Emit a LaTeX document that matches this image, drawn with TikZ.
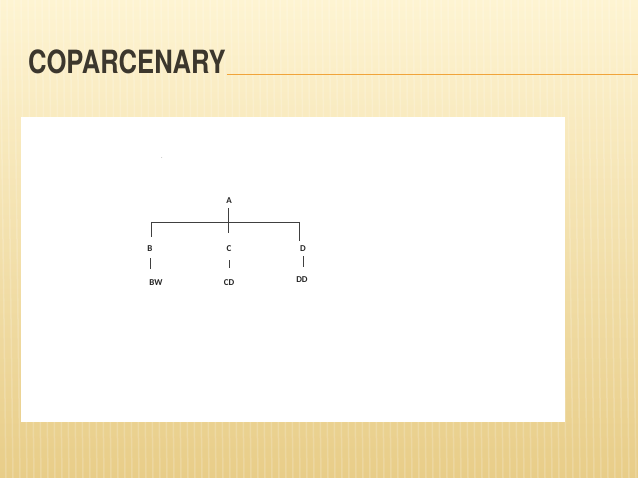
\documentclass[tikz,border=0pt]{standalone}
\usepackage{fontspec}
\setmainfont{Carlito}
\newfontfamily\titlefont{TeX Gyre Heros}
\usepackage{xcolor}
\usetikzlibrary{calc}
\definecolor{bgtop}{HTML}{FEF4D2}
\definecolor{bgmid}{HTML}{F7E4AA}
\definecolor{bgbot}{HTML}{E8CD88}
\definecolor{titlecol}{HTML}{3C372D}
\definecolor{rulecol}{HTML}{F0A43A}
\definecolor{linecol}{HTML}{404040}
\tikzset{
  member/.style={font=\bfseries\fontsize{9}{10}\selectfont, inner sep=0pt, text=black!85},
  kin/.style={draw=linecol, line width=0.8pt}
}

\begin{document}
\begin{tikzpicture}[x=1pt,y=-1pt]
        \useasboundingbox (0,0) rectangle (638,478);
        %BACKGROUND
        \shade[top color=bgtop, middle color=bgmid, bottom color=bgbot] (0,0) rectangle (638,478);
        \foreach \x in {0,7,...,630} \draw[white, opacity=0.18, line width=1.5pt] (\x,0) -- (\x+6,478);
        %TITLE
        \node[anchor=base west, inner sep=0pt, text=titlecol, font=\titlefont\bfseries\fontsize{32}{34}\selectfont] (title) at (28,73.5) {\scalebox{0.8}[1]{COPARCENARY}};
        \draw[rulecol, line width=1pt] (title.base east) ++(1,1.5) coordinate (ruleL) -- (638,75) coordinate (ruleR);
        %WHITE BOX
        \fill[white] (21,117) rectangle (565,422);
        \node[font=\fontsize{6}{7}\selectfont, text=gray] (dot) at (162,158) {.};
        %NAMES
        \node[member] (A) at (229,201) {A};
        \node[member] (B) at (150,249) {B};
        \node[member] (C) at (229,249) {C};
        \node[member] (D) at (303,249) {D};
        \node[member] (BW) at (156,283) {BW};
        \node[member] (CD) at (229,283) {CD};
        \node[member] (DD) at (302,280) {DD};
        %GARIS
        \coordinate (barL) at (151,222);
        \coordinate (barR) at (299,222);
        \coordinate (aEnd) at (228,233);
        \draw[kin] (barL) -- (barR);
        \draw[kin, shorten <=4.25pt] (A.south -| aEnd) -- (aEnd);
        \draw[kin, shorten >=9.25pt] (barL) -- (barL |- B.north);
        \draw[kin, shorten >=5.25pt] (barR) -- (barR |- D.north);
        \draw[kin, shorten <=6.25pt, shorten >=11.25pt] (B.south) -- (B.south |- BW.north);
        \draw[kin, shorten <=8.25pt, shorten >=12.25pt] (C.south) -- (C.south |- CD.north);
        \draw[kin, shorten <=4.25pt, shorten >=10.25pt] (D.south) -- (D.south |- DD.north);
\end{tikzpicture}
\end{document}
